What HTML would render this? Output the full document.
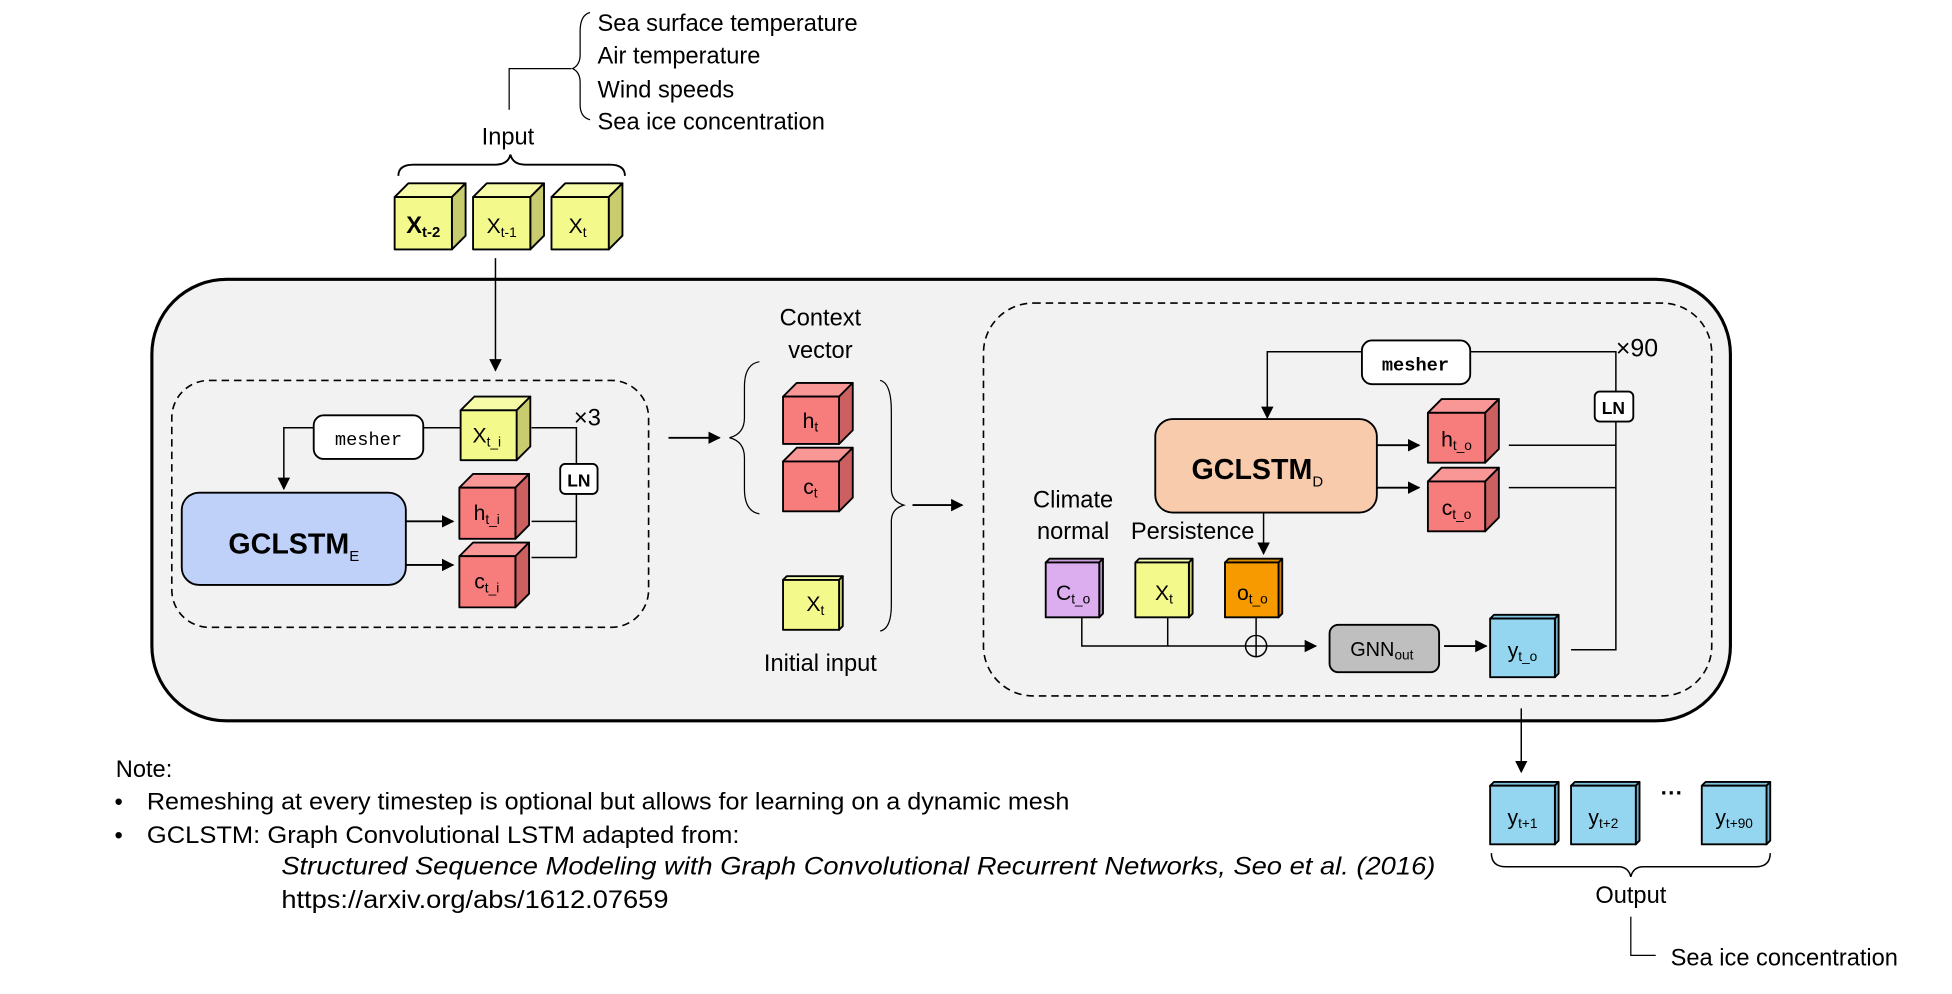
<!DOCTYPE html>
<html><head><meta charset="utf-8"><style>
html,body{margin:0;padding:0;background:#fff;}
svg{display:block;}
text{font-family:"Liberation Sans",sans-serif;fill:#000;}
.m{font-family:"Liberation Mono",monospace;}
</style></head><body>
<svg width="1952" height="994" viewBox="0 0 1568 797" preserveAspectRatio="none" xmlns="http://www.w3.org/2000/svg">
<defs>
<marker id="a" markerWidth="10" markerHeight="10" refX="9" refY="5" orient="auto" markerUnits="userSpaceOnUse"><path d="M0,0 L10,5 L0,10 z" fill="#000"/></marker>
</defs>
<path d="M474,10 Q466,12 466,25 L466,44 Q466,52 460,55 Q466,58 466,66 L466,84 Q466,94 474,96" fill="none" stroke="#000" stroke-width="1"/>
<polyline points="409,88 409,55 459,55" fill="none" stroke="#000" stroke-width="1"/>
<g font-size="19"><text x="480" y="25">Sea surface temperature</text><text x="480" y="51">Air temperature</text><text x="480" y="78">Wind speeds</text><text x="480" y="104">Sea ice concentration</text></g>
<text x="408" y="116" font-size="19" text-anchor="middle">Input</text>
<path d="M320,141 Q320,132 332,132 L398,132 Q408,132 410,124 Q412,132 422,132 L490,132 Q502,132 502,141" fill="none" stroke="#000" stroke-width="1.5"/>

<rect x="122" y="224" width="1268" height="354" rx="60" fill="#f2f2f2" stroke="#000" stroke-width="2.5"/>
<rect x="138" y="305" width="383" height="198" rx="30" fill="none" stroke="#000" stroke-width="1.3" stroke-dasharray="6,4"/>
<rect x="790" y="243" width="585" height="315" rx="40" fill="none" stroke="#000" stroke-width="1.3" stroke-dasharray="6,4"/>

<g stroke="#000" stroke-width="1.5" stroke-linejoin="round">
<g><polygon points="317,158 328,147 374,147 363,158" fill="#f6fba8"/><polygon points="363,158 374,147 374,189 363,200" fill="#c8cc6e"/><rect x="317" y="158" width="46" height="42" fill="#f3f98a"/></g>
<g><polygon points="380,158 391,147 437,147 426,158" fill="#f6fba8"/><polygon points="426,158 437,147 437,189 426,200" fill="#c8cc6e"/><rect x="380" y="158" width="46" height="42" fill="#f3f98a"/></g>
<g><polygon points="443,158 454,147 500,147 489,158" fill="#f6fba8"/><polygon points="489,158 500,147 500,189 489,200" fill="#c8cc6e"/><rect x="443" y="158" width="46" height="42" fill="#f3f98a"/></g>
<g><polygon points="370,329 381,318 426,318 415,329" fill="#f6fba8"/><polygon points="415,329 426,318 426,358 415,369" fill="#c8cc6e"/><rect x="370" y="329" width="45" height="40" fill="#f3f98a"/></g>
<g><polygon points="369,391 380,380 425,380 414,391" fill="#f99797"/><polygon points="414,391 425,380 425,421 414,432" fill="#cc6060"/><rect x="369" y="391" width="45" height="41" fill="#f77c7c"/></g>
<g><polygon points="369,446 380,435 425,435 414,446" fill="#f99797"/><polygon points="414,446 425,435 425,476 414,487" fill="#cc6060"/><rect x="369" y="446" width="45" height="41" fill="#f77c7c"/></g>
<g><polygon points="629,318 640,307 685,307 674,318" fill="#f99797"/><polygon points="674,318 685,307 685,345 674,356" fill="#cc6060"/><rect x="629" y="318" width="45" height="38" fill="#f77c7c"/></g>
<g><polygon points="629,370 640,359 685,359 674,370" fill="#f99797"/><polygon points="674,370 685,359 685,399 674,410" fill="#cc6060"/><rect x="629" y="370" width="45" height="40" fill="#f77c7c"/></g>
<g><polygon points="629,465 632,462 677,462 674,465" fill="#f6fba8"/><polygon points="674,465 677,462 677,502 674,505" fill="#c8cc6e"/><rect x="629" y="465" width="45" height="40" fill="#f3f98a"/></g>
<g><polygon points="1147,331 1158,320 1204,320 1193,331" fill="#f99797"/><polygon points="1193,331 1204,320 1204,360 1193,371" fill="#cc6060"/><rect x="1147" y="331" width="46" height="40" fill="#f77c7c"/></g>
<g><polygon points="1147,386 1158,375 1204,375 1193,386" fill="#f99797"/><polygon points="1193,386 1204,375 1204,415 1193,426" fill="#cc6060"/><rect x="1147" y="386" width="46" height="40" fill="#f77c7c"/></g>
<g><polygon points="840,451 843,448 886,448 883,451" fill="#c9a0dc"/><polygon points="883,451 886,448 886,492 883,495" fill="#b48cc6"/><rect x="840" y="451" width="43" height="44" fill="#dcaef0"/></g>
<g><polygon points="912,451 915,448 958,448 955,451" fill="#f6fba8"/><polygon points="955,451 958,448 958,492 955,495" fill="#c8cc6e"/><rect x="912" y="451" width="43" height="44" fill="#f3f98a"/></g>
<g><polygon points="984,451 987,448 1030,448 1027,451" fill="#e08a00"/><polygon points="1027,451 1030,448 1030,492 1027,495" fill="#c97c00"/><rect x="984" y="451" width="43" height="44" fill="#f79a00"/></g>
<g><polygon points="1197,496 1200,493 1252,493 1249,496" fill="#7cc4e0"/><polygon points="1249,496 1252,493 1252,540 1249,543" fill="#74b0c8"/><rect x="1197" y="496" width="52" height="47" fill="#94d6f0"/></g>
<g><polygon points="1197,630 1200,627 1252,627 1249,630" fill="#7cc4e0"/><polygon points="1249,630 1252,627 1252,674 1249,677" fill="#74b0c8"/><rect x="1197" y="630" width="52" height="47" fill="#94d6f0"/></g>
<g><polygon points="1262,630 1265,627 1317,627 1314,630" fill="#7cc4e0"/><polygon points="1314,630 1317,627 1317,674 1314,677" fill="#74b0c8"/><rect x="1262" y="630" width="52" height="47" fill="#94d6f0"/></g>
<g><polygon points="1367,630 1370,627 1422,627 1419,630" fill="#7cc4e0"/><polygon points="1419,630 1422,627 1422,674 1419,677" fill="#74b0c8"/><rect x="1367" y="630" width="52" height="47" fill="#94d6f0"/></g>
</g>

<g font-size="17" text-anchor="middle">
<text x="340" y="187" font-weight="bold" font-size="19">X<tspan font-size="12" dy="3">t-2</tspan></text>
<text x="403" y="187">X<tspan font-size="11" dy="3">t-1</tspan></text>
<text x="464" y="187">X<tspan font-size="11" dy="3">t</tspan></text>
<text x="391" y="355">X<tspan font-size="11" dy="3">t_i</tspan></text>
<text x="391" y="417">h<tspan font-size="11" dy="3">t_i</tspan></text>
<text x="391" y="472">c<tspan font-size="11" dy="3">t_i</tspan></text>
<text x="651" y="343">h<tspan font-size="11" dy="3">t</tspan></text>
<text x="651" y="396">c<tspan font-size="11" dy="3">t</tspan></text>
<text x="655" y="490">X<tspan font-size="11" dy="3">t</tspan></text>
<text x="1170" y="358">h<tspan font-size="11" dy="3">t_o</tspan></text>
<text x="1170" y="413">c<tspan font-size="11" dy="3">t_o</tspan></text>
<text x="862" y="481">C<tspan font-size="11" dy="3">t_o</tspan></text>
<text x="935" y="481">X<tspan font-size="11" dy="3">t</tspan></text>
<text x="1006" y="481">o<tspan font-size="11" dy="3">t_o</tspan></text>
<text x="1223" y="527">y<tspan font-size="11" dy="3">t_o</tspan></text>
<text x="1223" y="661">y<tspan font-size="11" dy="3">t+1</tspan></text>
<text x="1288" y="661">y<tspan font-size="11" dy="3">t+2</tspan></text>
<text x="1393" y="661">y<tspan font-size="11" dy="3">t+90</tspan></text>
</g>
<text x="1334" y="642" font-size="18" font-weight="bold">···</text>

<line x1="398" y1="207" x2="398" y2="297" stroke="#000" stroke-width="1.2" marker-end="url(#a)"/>
<rect x="252" y="333" width="88" height="35" rx="8" fill="#fff" stroke="#000" stroke-width="1.5"/>
<text x="296" y="357" font-size="15" class="m" text-anchor="middle">mesher</text>
<polyline points="252,343 228,343 228,392" fill="none" stroke="#000" stroke-width="1.2" marker-end="url(#a)"/>
<line x1="340" y1="343" x2="370" y2="343" stroke="#000" stroke-width="1.2"/>
<polyline points="427,343 463,343 463,447" fill="none" stroke="#000" stroke-width="1.2"/>
<rect x="450" y="372" width="30" height="24" rx="4" fill="#fff" stroke="#000" stroke-width="1.5"/>
<text x="465" y="390" font-size="14" font-weight="bold" text-anchor="middle">LN</text>
<text x="461" y="341" font-size="19">×3</text>
<line x1="427" y1="418" x2="463" y2="418" stroke="#000" stroke-width="1.2"/>
<line x1="427" y1="447" x2="463" y2="447" stroke="#000" stroke-width="1.2"/>
<rect x="146" y="395" width="180" height="74" rx="14" fill="#bfd1f8" stroke="#000" stroke-width="1.5"/>
<text x="236" y="444" font-size="23" font-weight="bold" text-anchor="middle">GCLSTM<tspan font-size="12" font-weight="normal" dy="6">E</tspan></text>
<line x1="326" y1="418" x2="364" y2="418" stroke="#000" stroke-width="1.5" marker-end="url(#a)"/>
<line x1="326" y1="453" x2="364" y2="453" stroke="#000" stroke-width="1.5" marker-end="url(#a)"/>

<line x1="537" y1="351" x2="578" y2="351" stroke="#000" stroke-width="1.5" marker-end="url(#a)"/>
<path d="M610,290 Q598,292 598,310 L598,335 Q598,348 586,351 Q598,354 598,367 L598,392 Q598,410 610,412" fill="none" stroke="#000" stroke-width="1"/>
<text x="659" y="261" font-size="19" text-anchor="middle">Context</text>
<text x="659" y="287" font-size="19" text-anchor="middle">vector</text>
<path d="M707,305 Q716,307 716,330 L716,392 Q716,402 726,405 Q716,408 716,418 L716,485 Q716,504 707,506" fill="none" stroke="#000" stroke-width="1"/>
<line x1="733" y1="405" x2="773" y2="405" stroke="#000" stroke-width="1.5" marker-end="url(#a)"/>
<text x="659" y="538" font-size="19" text-anchor="middle">Initial input</text>

<rect x="1094" y="273" width="87" height="35" rx="8" fill="#fff" stroke="#000" stroke-width="1.5"/>
<text x="1137" y="297" font-size="15" font-weight="bold" class="m" text-anchor="middle">mesher</text>
<polyline points="1094,282 1018,282 1018,335" fill="none" stroke="#000" stroke-width="1.2" marker-end="url(#a)"/>
<polyline points="1181,282 1298,282 1298,521 1262,521" fill="none" stroke="#000" stroke-width="1.2"/>
<text x="1298" y="286" font-size="20">×90</text>
<rect x="1281" y="314" width="31" height="24" rx="4" fill="#fff" stroke="#000" stroke-width="1.5"/>
<text x="1296" y="332" font-size="14" font-weight="bold" text-anchor="middle">LN</text>
<line x1="1212" y1="357" x2="1298" y2="357" stroke="#000" stroke-width="1.2"/>
<line x1="1212" y1="391" x2="1298" y2="391" stroke="#000" stroke-width="1.2"/>
<rect x="928" y="336" width="178" height="75" rx="14" fill="#f8cbad" stroke="#000" stroke-width="1.5"/>
<text x="1010" y="384" font-size="23" font-weight="bold" text-anchor="middle">GCLSTM<tspan font-size="12" font-weight="normal" dy="6">D</tspan></text>
<line x1="1106" y1="357" x2="1140" y2="357" stroke="#000" stroke-width="1.5" marker-end="url(#a)"/>
<line x1="1106" y1="391" x2="1140" y2="391" stroke="#000" stroke-width="1.5" marker-end="url(#a)"/>
<line x1="1015" y1="411" x2="1015" y2="444" stroke="#000" stroke-width="1.2" marker-end="url(#a)"/>
<text x="862" y="407" font-size="19" text-anchor="middle">Climate</text>
<text x="862" y="432" font-size="19" text-anchor="middle">normal</text>
<text x="958" y="432" font-size="19" text-anchor="middle">Persistence</text>
<polyline points="869,495 869,518 1057,518" fill="none" stroke="#000" stroke-width="1.2" marker-end="url(#a)"/>
<line x1="938" y1="495" x2="938" y2="518" stroke="#000" stroke-width="1.2"/>
<line x1="1009" y1="495" x2="1009" y2="509" stroke="#000" stroke-width="1.2"/>
<circle cx="1009" cy="518" r="8.5" fill="none" stroke="#000" stroke-width="1.2"/>
<line x1="1009" y1="509" x2="1009" y2="527" stroke="#000" stroke-width="1.2"/>
<rect x="1068" y="501" width="88" height="38" rx="7" fill="#bfbfbf" stroke="#000" stroke-width="1.5"/>
<text x="1110" y="526" font-size="16" text-anchor="middle">GNN<tspan font-size="11" dy="3">out</tspan></text>
<line x1="1160" y1="518" x2="1194" y2="518" stroke="#000" stroke-width="1.5" marker-end="url(#a)"/>

<line x1="1222" y1="568" x2="1222" y2="619" stroke="#000" stroke-width="1.2" marker-end="url(#a)"/>
<path d="M1198,684 Q1198,695 1210,695 L1300,695 Q1308,695 1310,703 Q1312,695 1320,695 L1410,695 Q1422,695 1422,684" fill="none" stroke="#000" stroke-width="1.2"/>
<text x="1310" y="724" font-size="19" text-anchor="middle">Output</text>
<polyline points="1310,735 1310,766 1330,766" fill="none" stroke="#000" stroke-width="1"/>
<text x="1342" y="774" font-size="19">Sea ice concentration</text>

<g font-size="19">
<text x="93" y="623">Note:</text>
<text x="92" y="649">•</text><text x="118" y="649" textLength="741" lengthAdjust="spacingAndGlyphs">Remeshing at every timestep is optional but allows for learning on a dynamic mesh</text>
<text x="92" y="676">•</text><text x="118" y="676" textLength="476" lengthAdjust="spacingAndGlyphs">GCLSTM: Graph Convolutional LSTM adapted from:</text>
<text x="226" y="701" font-style="italic" font-size="20" textLength="927" lengthAdjust="spacingAndGlyphs">Structured Sequence Modeling with Graph Convolutional Recurrent Networks, Seo et al. (2016)</text>
<text x="226" y="728" font-size="20" textLength="311" lengthAdjust="spacingAndGlyphs">https://arxiv.org/abs/1612.07659</text>
</g>
</svg>
</body></html>
